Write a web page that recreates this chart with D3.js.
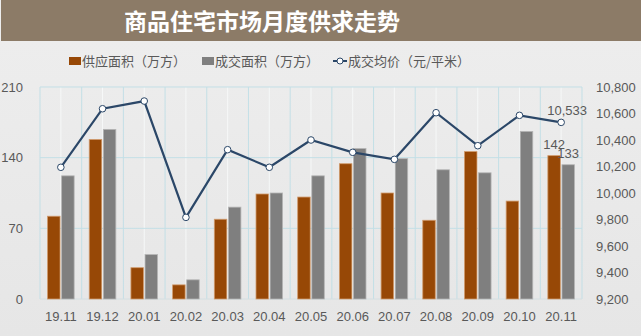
<!DOCTYPE html>
<html>
<head>
<meta charset="utf-8">
<script src="https://cdn.jsdelivr.net/npm/d3@7"></script>
<style>
  body { margin: 0; background: #ebebeb; }
  svg { display: block; font-family: "Noto Sans CJK SC", "Noto Sans", sans-serif; }
  .tick-label { font-family: "Liberation Sans", "Noto Sans", sans-serif; font-size: 13px; fill: #595959; }
</style>
</head>
<body>
<div id="chart"></div>
<script>
const titleText = '商品住宅市场月度供求走势'
const months = ['19.11', '19.12', '20.01', '20.02', '20.03', '20.04', '20.05', '20.06', '20.07', '20.08', '20.09', '20.10', '20.11']
const supply = [82, 158, 31, 14, 79, 104, 101, 134, 105, 78, 146, 97, 142]
const sales = [122, 168, 44, 19, 91, 105, 122, 149, 139, 128, 125, 166, 133]
const price = [10194, 10636, 10694, 9816, 10327, 10194, 10400, 10307, 10254, 10606, 10357, 10586, 10533]
const leftTicks = [0, 70, 140, 210]
const rightTicks = [9200, 9400, 9600, 9800, 10000, 10200, 10400, 10600, 10800]
const legendNames = ['供应面积（万方）', '成交面积（万方）', '成交均价（元/平米）']

const width = 641, height = 336
const margin = { top: 87, right: 59, bottom: 37, left: 40 }
const innerW = width - margin.left - margin.right
const innerH = height - margin.top - margin.bottom

const svg = d3.select('#chart').append('svg')
    .attr('width', width)
    .attr('height', height)

// background gradient
const defs = svg.append('defs')
const grad = defs.append('linearGradient').attr('id', 'bg').attr('x1', 0).attr('y1', 0).attr('x2', 0).attr('y2', 1)
grad.append('stop').attr('offset', '0%').attr('stop-color', '#eeeeee')
grad.append('stop').attr('offset', '100%').attr('stop-color', '#e6e6e6')
svg.append('rect').attr('width', width).attr('height', height).attr('fill', 'url(#bg)')

// title band
svg.append('rect')
    .attr('x', 1).attr('y', 0)
    .attr('width', width - 1).attr('height', 41)
    .attr('fill', '#8c7b67')
svg.append('text')
    .attr('x', 262).attr('y', 30)
    .attr('text-anchor', 'middle')
    .attr('font-size', 23)
    .attr('font-weight', 'bold')
    .attr('fill', '#ffffff')
    .text(titleText)

const chart = svg.append('g')
    .attr('transform', `translate(${margin.left},${margin.top})`)

const x = d3.scaleBand().domain(months).range([0, innerW])
const yLeft = d3.scaleLinear().domain([0, 210]).range([innerH, 0])
const yRight = d3.scaleLinear().domain([9200, 10800]).range([innerH, 0])

// grid: category centres (faint) and boundaries
chart.append('g').selectAll('line.mid')
    .data(months)
    .join('line')
    .attr('x1', d => x(d) + x.bandwidth() / 2)
    .attr('x2', d => x(d) + x.bandwidth() / 2)
    .attr('y1', 0).attr('y2', innerH)
    .attr('stroke', '#f6f8f8').attr('stroke-width', 1)

chart.append('g').selectAll('line.vgrid')
    .data(d3.range(months.length + 1))
    .join('line')
    .attr('x1', i => i * x.step())
    .attr('x2', i => i * x.step())
    .attr('y1', 0).attr('y2', innerH)
    .attr('stroke', '#c3dfe6').attr('stroke-width', 1)

chart.append('g').selectAll('line.hgrid')
    .data(leftTicks)
    .join('line')
    .attr('x1', 0).attr('x2', innerW)
    .attr('y1', d => yLeft(d)).attr('y2', d => yLeft(d))
    .attr('stroke', d => d === 0 ? '#d4dfe2' : '#c3dfe6').attr('stroke-width', 1)

// bars
const barW = 12.5
chart.append('g').selectAll('rect.supply')
    .data(supply)
    .join('rect')
    .attr('x', (d, i) => x(months[i]) + x.bandwidth() / 2 - barW - 0.8)
    .attr('y', d => yLeft(d))
    .attr('width', barW)
    .attr('height', d => innerH - yLeft(d))
    .attr('fill', '#974806')
    .attr('stroke', '#d09a6c').attr('stroke-width', 0.8)

chart.append('g').selectAll('rect.sales')
    .data(sales)
    .join('rect')
    .attr('x', (d, i) => x(months[i]) + x.bandwidth() / 2 + 0.8)
    .attr('y', d => yLeft(d))
    .attr('width', barW)
    .attr('height', d => innerH - yLeft(d))
    .attr('fill', '#7f7f7f')
    .attr('stroke', '#b5b5b5').attr('stroke-width', 0.8)

// price line
const line = d3.line()
    .x((d, i) => x(months[i]) + x.bandwidth() / 2)
    .y(d => yRight(d))
chart.append('path')
    .datum(price)
    .attr('d', line)
    .attr('fill', 'none')
    .attr('stroke', '#2b4768')
    .attr('stroke-width', 2.2)

chart.append('g').selectAll('circle')
    .data(price)
    .join('circle')
    .attr('cx', (d, i) => x(months[i]) + x.bandwidth() / 2)
    .attr('cy', d => yRight(d))
    .attr('r', 3.3)
    .attr('fill', '#ffffff')
    .attr('stroke', '#2b4768')
    .attr('stroke-width', 1)

// data labels on the last month
const last = months.length - 1
const lastX = x(months[last]) + x.bandwidth() / 2
chart.append('text').attr('class', 'tick-label')
    .attr('x', lastX + 6).attr('y', yRight(price[last]) - 7)
    .attr('text-anchor', 'middle')
    .text(d3.format(',')(price[last]))
chart.append('text').attr('class', 'tick-label')
    .attr('x', lastX - barW / 2 - 0.8).attr('y', yLeft(supply[last]) - 7)
    .attr('text-anchor', 'middle')
    .text(supply[last])
chart.append('text').attr('class', 'tick-label')
    .attr('x', lastX + barW / 2 + 0.8).attr('y', yLeft(sales[last]) - 7)
    .attr('text-anchor', 'middle')
    .text(sales[last])

// axes
const leftAxis = d3.axisLeft(yLeft).tickValues(leftTicks).tickSize(0).tickPadding(17)
const rightAxis = d3.axisRight(yRight).tickValues(rightTicks).tickSize(0).tickPadding(14).tickFormat(d3.format(','))
const bottomAxis = d3.axisBottom(x).tickSize(0).tickPadding(13)

function styleAxis(g) {
    g.select('.domain').remove()
    g.selectAll('text').attr('class', 'tick-label').attr('fill', null)
}
chart.append('g').call(leftAxis).call(styleAxis)
chart.append('g').attr('transform', `translate(${innerW},0)`).call(rightAxis).call(styleAxis)
chart.append('g').attr('transform', `translate(0,${innerH})`).call(bottomAxis).call(styleAxis)

// legend
const legend = svg.append('g').attr('font-size', 13).attr('fill', '#595959')
const legendX = [69, 202, 333]
legend.append('rect').attr('x', legendX[0]).attr('y', 57).attr('width', 12).attr('height', 8).attr('fill', '#974806')
legend.append('rect').attr('x', legendX[1]).attr('y', 57).attr('width', 12).attr('height', 8).attr('fill', '#7f7f7f')
legend.append('line').attr('x1', legendX[2]).attr('x2', legendX[2] + 14).attr('y1', 61).attr('y2', 61)
    .attr('stroke', '#2b4768').attr('stroke-width', 2)
legend.append('circle').attr('cx', legendX[2] + 7).attr('cy', 61).attr('r', 3)
    .attr('fill', '#fff').attr('stroke', '#2b4768').attr('stroke-width', 1)
legend.selectAll('text')
    .data(legendNames)
    .join('text')
    .attr('x', (d, i) => legendX[i] + (i === 2 ? 15 : 13))
    .attr('y', 65.5)
    .text(d => d)
</script>
</body>
</html>
